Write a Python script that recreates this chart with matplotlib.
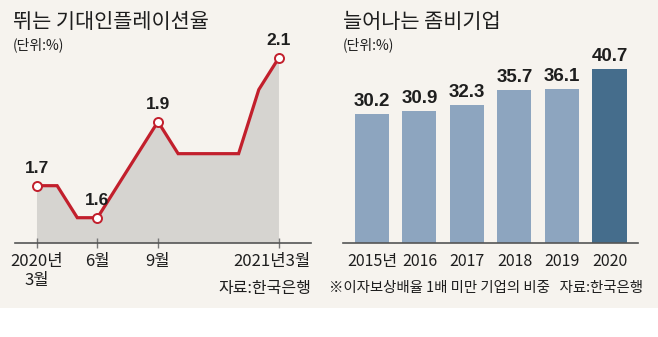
import matplotlib
matplotlib.use("Agg")
import matplotlib.pyplot as plt
from matplotlib.patches import Rectangle
from matplotlib import font_manager
import matplotlib.transforms as mtransforms

# ---------------- data ----------------
months = ["2020-03", "2020-04", "2020-05", "2020-06", "2020-07", "2020-08", "2020-09",
          "2020-10", "2020-11", "2020-12", "2021-01", "2021-02", "2021-03"]
inflation_exp = [1.7, 1.7, 1.6, 1.6, 1.7, 1.8, 1.9, 1.8, 1.8, 1.8, 1.8, 2.0, 2.1]
labeled_idx = [0, 3, 6, 12]
left_tick_idx = [0, 3, 6, 12]
left_tick_labels = ["2020년\n3월", "6월", "9월", "2021년3월"]

years = ["2015년", "2016", "2017", "2018", "2019", "2020"]
zombie_share = [30.2, 30.9, 32.3, 35.7, 36.1, 40.7]

# ---------------- style ----------------
KR = "Noto Sans CJK KR"
names = {f.name for f in font_manager.fontManager.ttflist}
NUM = "Liberation Sans Narrow" if "Liberation Sans Narrow" in names else "Liberation Sans"
plt.rcParams['font.family'] = [KR, 'DejaVu Sans']

BG = "#f6f3ee"
RED = "#c21f2c"
FILL = "#d6d4d0"
LIGHT = "#8da5bf"
DARK = "#456d8c"
AXC = "#555555"
TXT = "#1e1e1e"

W, H = 658, 337
fig = plt.figure(figsize=(W / 100, H / 100), dpi=100, facecolor=BG)
fig.patches.append(Rectangle((0, 0), 1, 29 / H, transform=fig.transFigure,
                             facecolor="white", edgecolor="none", zorder=0))

def px_axes(x0, y_top, w, h):
    return fig.add_axes([x0 / W, (H - y_top - h) / H, w / W, h / H])

# ---------------- left chart ----------------
axL = px_axes(15, 40, 296, 203)
axL.set_facecolor("none")
x = list(range(len(inflation_exp)))
axL.set_xlim(-1.09, 13.59)
axL.set_ylim(1.521, 2.155)
axL.fill_between(x, inflation_exp, 1.0, color=FILL, lw=0, zorder=1)
axL.plot(x, inflation_exp, color=RED, lw=2.3, solid_joinstyle="miter", zorder=3)
axL.plot([x[i] for i in labeled_idx], [inflation_exp[i] for i in labeled_idx],
         ls="none", marker="o", ms=6.5, mfc="white", mec=RED, mew=1.4, zorder=4)
for i in labeled_idx:
    axL.annotate(f"{inflation_exp[i]:.1f}", (x[i], inflation_exp[i]),
                 xytext=(0, 7), textcoords="offset points", ha="center", va="bottom",
                 fontsize=12.5, fontweight="bold", family=[NUM, 'DejaVu Sans'], color=TXT)
for s in ["top", "right", "left"]:
    axL.spines[s].set_visible(False)
axL.spines["bottom"].set_color(AXC)
axL.spines["bottom"].set_linewidth(1.2)
axL.set_yticks([])
axL.set_xticks([x[i] for i in left_tick_idx])
axL.set_xticklabels(left_tick_labels, fontsize=12, color=TXT, linespacing=1.15)
axL.tick_params(axis="x", direction="inout", length=7, width=1, color="#777777", pad=4)
lbls = axL.get_xticklabels()
lbls[-1].set_horizontalalignment("right")
lbls[-1].set_transform(lbls[-1].get_transform() +
                       mtransforms.ScaledTranslation(32 / 100, 0, fig.dpi_scale_trans))

fig.text(13 / W, 1 - 22 / H, "뛰는 기대인플레이션율", fontsize=15, fontweight="medium",
         color=TXT, ha="left", va="center")
fig.text(13 / W, 1 - 45 / H, "(단위:%)", fontsize=10, color=TXT, ha="left", va="center")
fig.text(311 / W, 1 - 288 / H, "자료:한국은행", fontsize=11.5, color=TXT,
         ha="right", va="center")

# ---------------- right chart ----------------
axR = px_axes(343, 40, 295, 203)
axR.set_facecolor("none")
xb = list(range(len(zombie_share)))
colors = [LIGHT] * (len(zombie_share) - 1) + [DARK]
axR.bar(xb, zombie_share, width=0.716, color=colors, zorder=2)
axR.set_xlim(-0.61, 5.6)
axR.set_ylim(0, 47.5)
for i, v in enumerate(zombie_share):
    axR.annotate(f"{v:.1f}", (xb[i], v), xytext=(0, 3), textcoords="offset points",
                 ha="center", va="bottom", fontsize=13.5, fontweight="bold",
                 family=[NUM, 'DejaVu Sans'], color=TXT)
for s in ["top", "right", "left"]:
    axR.spines[s].set_visible(False)
axR.spines["bottom"].set_color(AXC)
axR.spines["bottom"].set_linewidth(1.2)
axR.set_yticks([])
axR.set_xticks(xb)
axR.set_xticklabels(years, fontsize=11.5, color=TXT)
axR.tick_params(axis="x", length=0, pad=7)

fig.text(343 / W, 1 - 22 / H, "늘어나는 좀비기업", fontsize=15, fontweight="medium",
         color=TXT, ha="left", va="center")
fig.text(343 / W, 1 - 45 / H, "(단위:%)", fontsize=10, color=TXT, ha="left", va="center")
fig.text(643 / W, 1 - 288 / H, "※이자보상배율 1배 미만 기업의 비중   자료:한국은행",
         fontsize=10.4, color=TXT, ha="right", va="center")

fig.savefig("out.png", dpi=100, facecolor=BG)
